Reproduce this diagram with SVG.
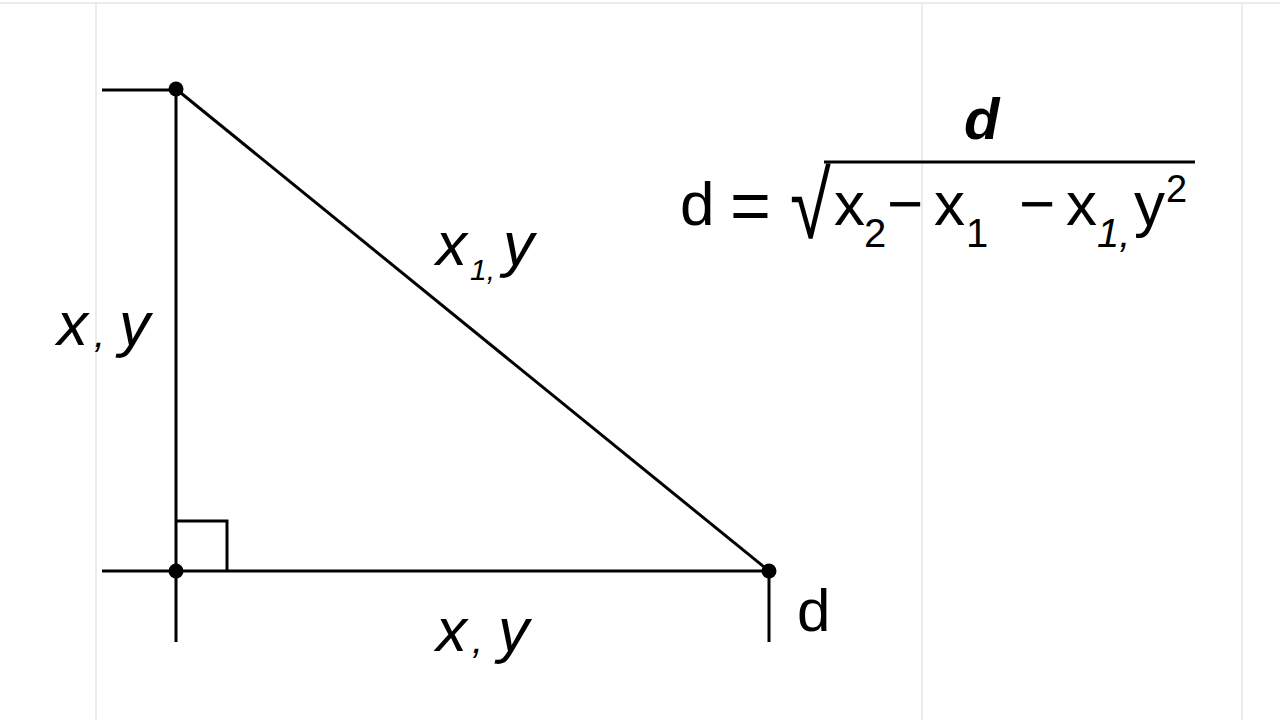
<svg xmlns="http://www.w3.org/2000/svg" width="1280" height="720" viewBox="0 0 1280 720">
<style>
.ln{stroke:#000;stroke-width:3;fill:none;stroke-linecap:butt}
.grid{stroke:#ececec;stroke-width:2}
.t{font-family:"Liberation Sans",Arial,sans-serif;fill:#000}
.it{font-style:italic}
</style>
<rect width="1280" height="720" fill="#fff"/>
<g id="grid">
<line class="grid" x1="0" y1="3" x2="1280" y2="3"/>
<line class="grid" x1="96" y1="3" x2="96" y2="720"/>
<line class="grid" x1="922" y1="3" x2="922" y2="720"/>
<line class="grid" x1="1242" y1="3" x2="1242" y2="720"/>
</g>
<g id="connectors">
<line class="ln" x1="102" y1="90" x2="176" y2="90"/>
<line class="ln" x1="176" y1="89" x2="176" y2="642"/>
<line class="ln" x1="102" y1="571" x2="769" y2="571"/>
<line class="ln" x1="176" y1="89" x2="769" y2="571"/>
<line class="ln" x1="769" y1="571" x2="769" y2="642"/>
<polyline class="ln" points="176,521 227,521 227,571"/>
</g>
<g id="node-top"><circle cx="176" cy="89" r="7.5" fill="#000"/></g>
<g id="node-corner"><circle cx="176" cy="571" r="7.5" fill="#000"/></g>
<g id="node-right"><circle cx="769" cy="571" r="7.5" fill="#000"/></g>
<g id="label-left">
<text class="t it" x="57" y="345" font-size="62">x</text>
<text class="t it" x="94" y="347" font-size="40">,</text>
<text class="t it" x="119" y="345" font-size="62">y</text>
</g>
<g id="label-hyp">
<text class="t it" x="436" y="265" font-size="62">x</text>
<text class="t it" x="470" y="280" font-size="30">1,</text>
<text class="t it" x="503" y="265" font-size="62">y</text>
</g>
<g id="label-bottom">
<text class="t it" x="436" y="651" font-size="62">x</text>
<text class="t it" x="472" y="653" font-size="40">,</text>
<text class="t it" x="498" y="651" font-size="62">y</text>
</g>
<g id="label-d">
<text class="t" x="797" y="631" font-size="60">d</text>
</g>
<g id="formula">
<text class="t it" x="964" y="139" font-size="58" font-weight="bold">d</text>
<text class="t" x="680" y="225" font-size="62">d</text>
<text class="t" x="730" y="230" font-size="70">=</text>
<text class="t" transform="translate(790,238) scale(1.2,1.52)" font-size="62">√</text>
<line class="ln" x1="824" y1="162" x2="1195" y2="162"/>
<text class="t" x="834" y="225" font-size="62">x</text>
<text class="t" x="864" y="247" font-size="40">2</text>
<text class="t" x="887" y="225" font-size="62">−</text>
<text class="t" x="934" y="225" font-size="62">x</text>
<text class="t" x="966" y="247" font-size="40">1</text>
<text class="t" x="1019" y="225" font-size="62">−</text>
<text class="t" x="1066" y="225" font-size="62">x</text>
<text class="t it" x="1097" y="247" font-size="40">1,</text>
<text class="t" x="1134" y="225" font-size="62">y</text>
<text class="t" x="1166" y="202" font-size="38">2</text>
</g>
</svg>
